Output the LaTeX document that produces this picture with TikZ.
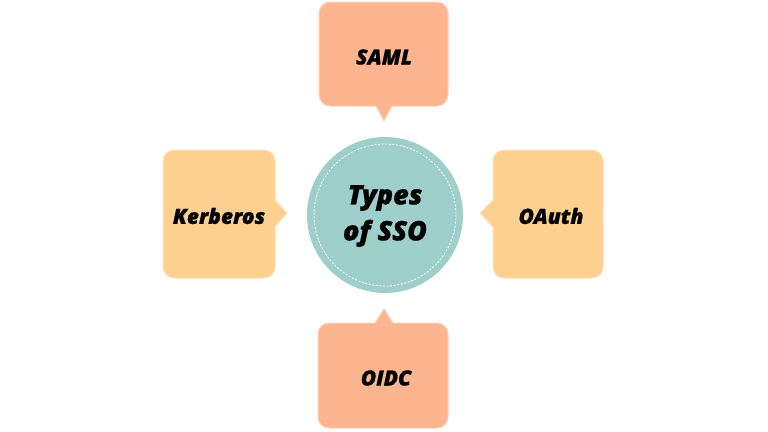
\documentclass[tikz,border=0pt]{standalone}
\usepackage{fontspec}
\setmainfont{Open Sans}
\newfontfamily\heavyfont{Open Sans Bold Italic}[FakeBold=0.8]
\definecolor{salmon}{HTML}{FDB58F}
\definecolor{salmonb}{HTML}{FFD2B6}
\definecolor{sand}{HTML}{FED08F}
\definecolor{sandb}{HTML}{FFE2B8}
\definecolor{teal}{HTML}{9FCFCB}
\begin{document}
\begin{tikzpicture}[x=1pt,y=-1pt,
  salbox/.style={fill=salmon,draw=salmonb,line width=1pt,rounded corners=11pt},
  sandbox/.style={fill=sand,draw=sandb,line width=1pt,rounded corners=11pt},
  lbl/.style={font=\heavyfont\bfseries\fontsize{21}{25}\selectfont,text=black,inner sep=0pt}]
\useasboundingbox (0,0) rectangle (768,431);
\fill[white] (0,0) rectangle (768,431);
% SAML (top)
\draw[salbox] (319,2) rectangle (448,106);
\fill[salmon] (376,103) -- (392,103) -- (392,106) -- (384,121) -- (376,106) -- cycle;
\draw[salmonb,line width=1pt] (392,106) -- (384,121) -- (376,106);
\node[lbl] (saml) at (384,57) {SAML};
% OIDC (bottom)
\draw[salbox] (318,323) rectangle (448,428);
\fill[salmon] (375,326) -- (393,326) -- (393,323) -- (384,309) -- (375,323) -- cycle;
\draw[salmonb,line width=1pt] (393,323) -- (384,309) -- (375,323);
\node[lbl] (oidc) at (386,378) {OIDC};
% Kerberos (left)
\draw[sandbox] (163,150) rectangle (275,278);
\fill[sand] (272,200) -- (272,227) -- (275,227) -- (287,213) -- (275,200) -- cycle;
\draw[sandb,line width=1pt] (275,200) -- (287,213) -- (275,227);
\node[lbl] (kerberos) at (219,216) {Kerberos};
% OAuth (right)
\draw[sandbox] (493,150) rectangle (603,278);
\fill[sand] (496,200) -- (496,227) -- (493,227) -- (480,213) -- (493,200) -- cycle;
\draw[sandb,line width=1pt] (493,200) -- (480,213) -- (493,227);
\node[lbl] (oauth) at (551,216) {OAuth};
% centre circle
\fill[teal] (385,215) circle[radius=78];
\draw[white,line width=0.8pt,dash pattern=on 2pt off 1.6pt] (385,215) circle[radius=71];
\node[font=\heavyfont\bfseries\fontsize{27}{36}\selectfont,align=center,inner sep=0pt] (types) at (385,216) {Types\\of SSO};
\end{tikzpicture}
\end{document}
